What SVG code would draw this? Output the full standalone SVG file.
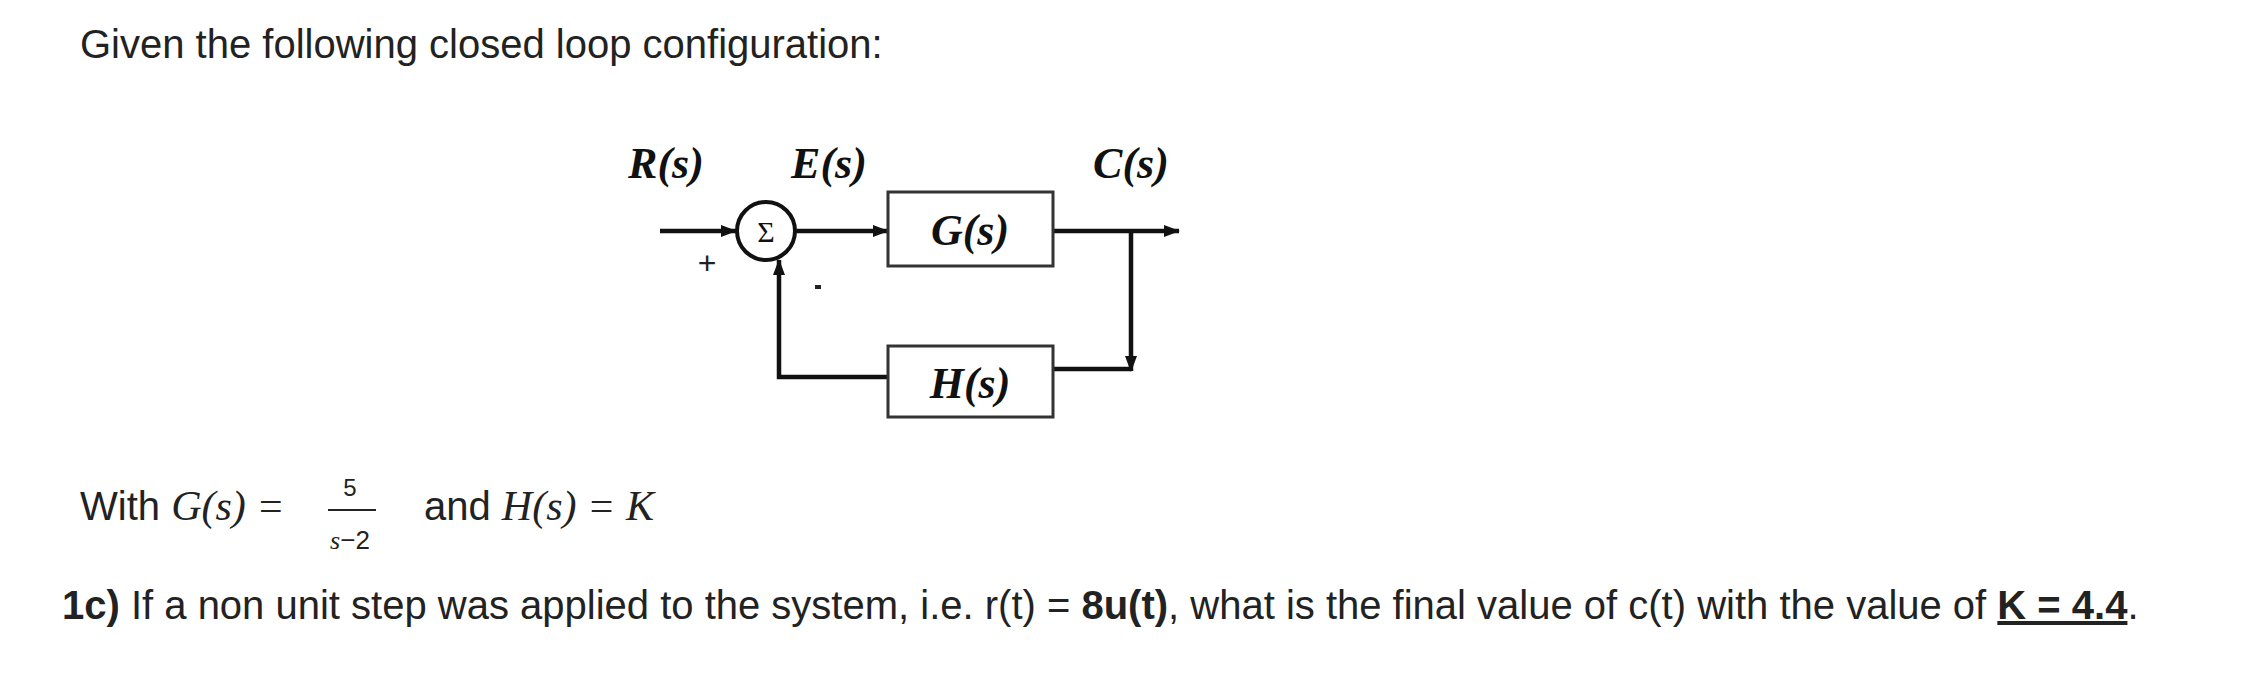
<svg xmlns="http://www.w3.org/2000/svg" width="2264" height="676" viewBox="0 0 2264 676">
<style>
.t{font-family:"Liberation Sans",Arial,sans-serif;font-size:40px;fill:#222}
.m{font-family:"Liberation Serif","Times New Roman",serif;font-style:italic;font-size:42px}
.lb{font-family:"Liberation Serif","Times New Roman",serif;font-weight:bold;font-style:italic;font-size:44px;fill:#111}
.ln{stroke:#111;stroke-width:4.5;fill:none}
.bx{fill:#fff;stroke:#333;stroke-width:3}
</style>
<defs><marker id="ar" markerWidth="16" markerHeight="12" refX="15" refY="6" orient="auto" markerUnits="userSpaceOnUse"><path d="M0,0L16,6L0,12z" fill="#111"/></marker></defs>
<text class="t" x="80" y="58" font-size="45">Given the following closed loop configuration:</text>
<g transform="translate(-10,0)">
<g id="connectors">
<line class="ln" x1="670" y1="231" x2="746" y2="231" marker-end="url(#ar)"/>
<line class="ln" x1="804" y1="231" x2="898" y2="231" marker-end="url(#ar)"/>
<line class="ln" x1="1063" y1="231" x2="1189" y2="231" marker-end="url(#ar)"/>
<polyline class="ln" points="1141,231 1141,371" marker-end="url(#ar)"/>
<line class="ln" x1="1141" y1="369" x2="1063" y2="369"/>
<polyline class="ln" points="898,377 789,377 789,260" marker-end="url(#ar)"/>
</g>
<g id="sum"><circle cx="776" cy="231" r="29" fill="#fff" stroke="#111" stroke-width="4"/><text x="776" y="242" text-anchor="middle" font-family="Liberation Serif,serif" font-size="30" fill="#111">Σ</text></g>
<g id="G"><rect class="bx" x="898" y="192" width="165" height="74"/><text class="lb" x="980" y="245" text-anchor="middle">G(s)</text></g>
<g id="H"><rect class="bx" x="898" y="346" width="165" height="71"/><text class="lb" x="980" y="398" text-anchor="middle">H(s)</text></g>
<text class="lb" x="676" y="178" text-anchor="middle">R(s)</text>
<text class="lb" x="839" y="178" text-anchor="middle">E(s)</text>
<text class="lb" x="1141" y="178" text-anchor="middle">C(s)</text>
<text x="717" y="274" text-anchor="middle" font-family="Liberation Sans,sans-serif" font-size="32" fill="#222">+</text>
<rect x="825" y="285" width="6" height="4" fill="#222"/>
</g>
<text class="t" x="80" y="520">With <tspan class="m">G</tspan><tspan class="m" font-style="normal">(</tspan><tspan class="m">s</tspan><tspan class="m" font-style="normal">) =</tspan></text>
<text x="350" y="496" text-anchor="middle" font-family="Liberation Sans,sans-serif" font-size="24" fill="#222">5</text>
<line x1="328" y1="510" x2="376" y2="510" stroke="#222" stroke-width="2"/>
<text x="350" y="549" text-anchor="middle" font-family="Liberation Sans,sans-serif" font-size="26" fill="#222"><tspan font-family="Liberation Serif,serif" font-style="italic">s</tspan>−2</text>
<text class="t" x="424" y="520">and <tspan class="m">H</tspan><tspan class="m" font-style="normal">(</tspan><tspan class="m">s</tspan><tspan class="m" font-style="normal">) = </tspan><tspan class="m">K</tspan></text>
<text class="t" x="62" y="619"><tspan font-weight="bold">1c)</tspan>  If a non unit step was applied to the system, i.e. r(t) = <tspan font-weight="bold">8u(t)</tspan>, what is the final value of c(t) with the value of <tspan font-weight="bold" text-decoration="underline">K = 4.4</tspan>.</text>
</svg>
